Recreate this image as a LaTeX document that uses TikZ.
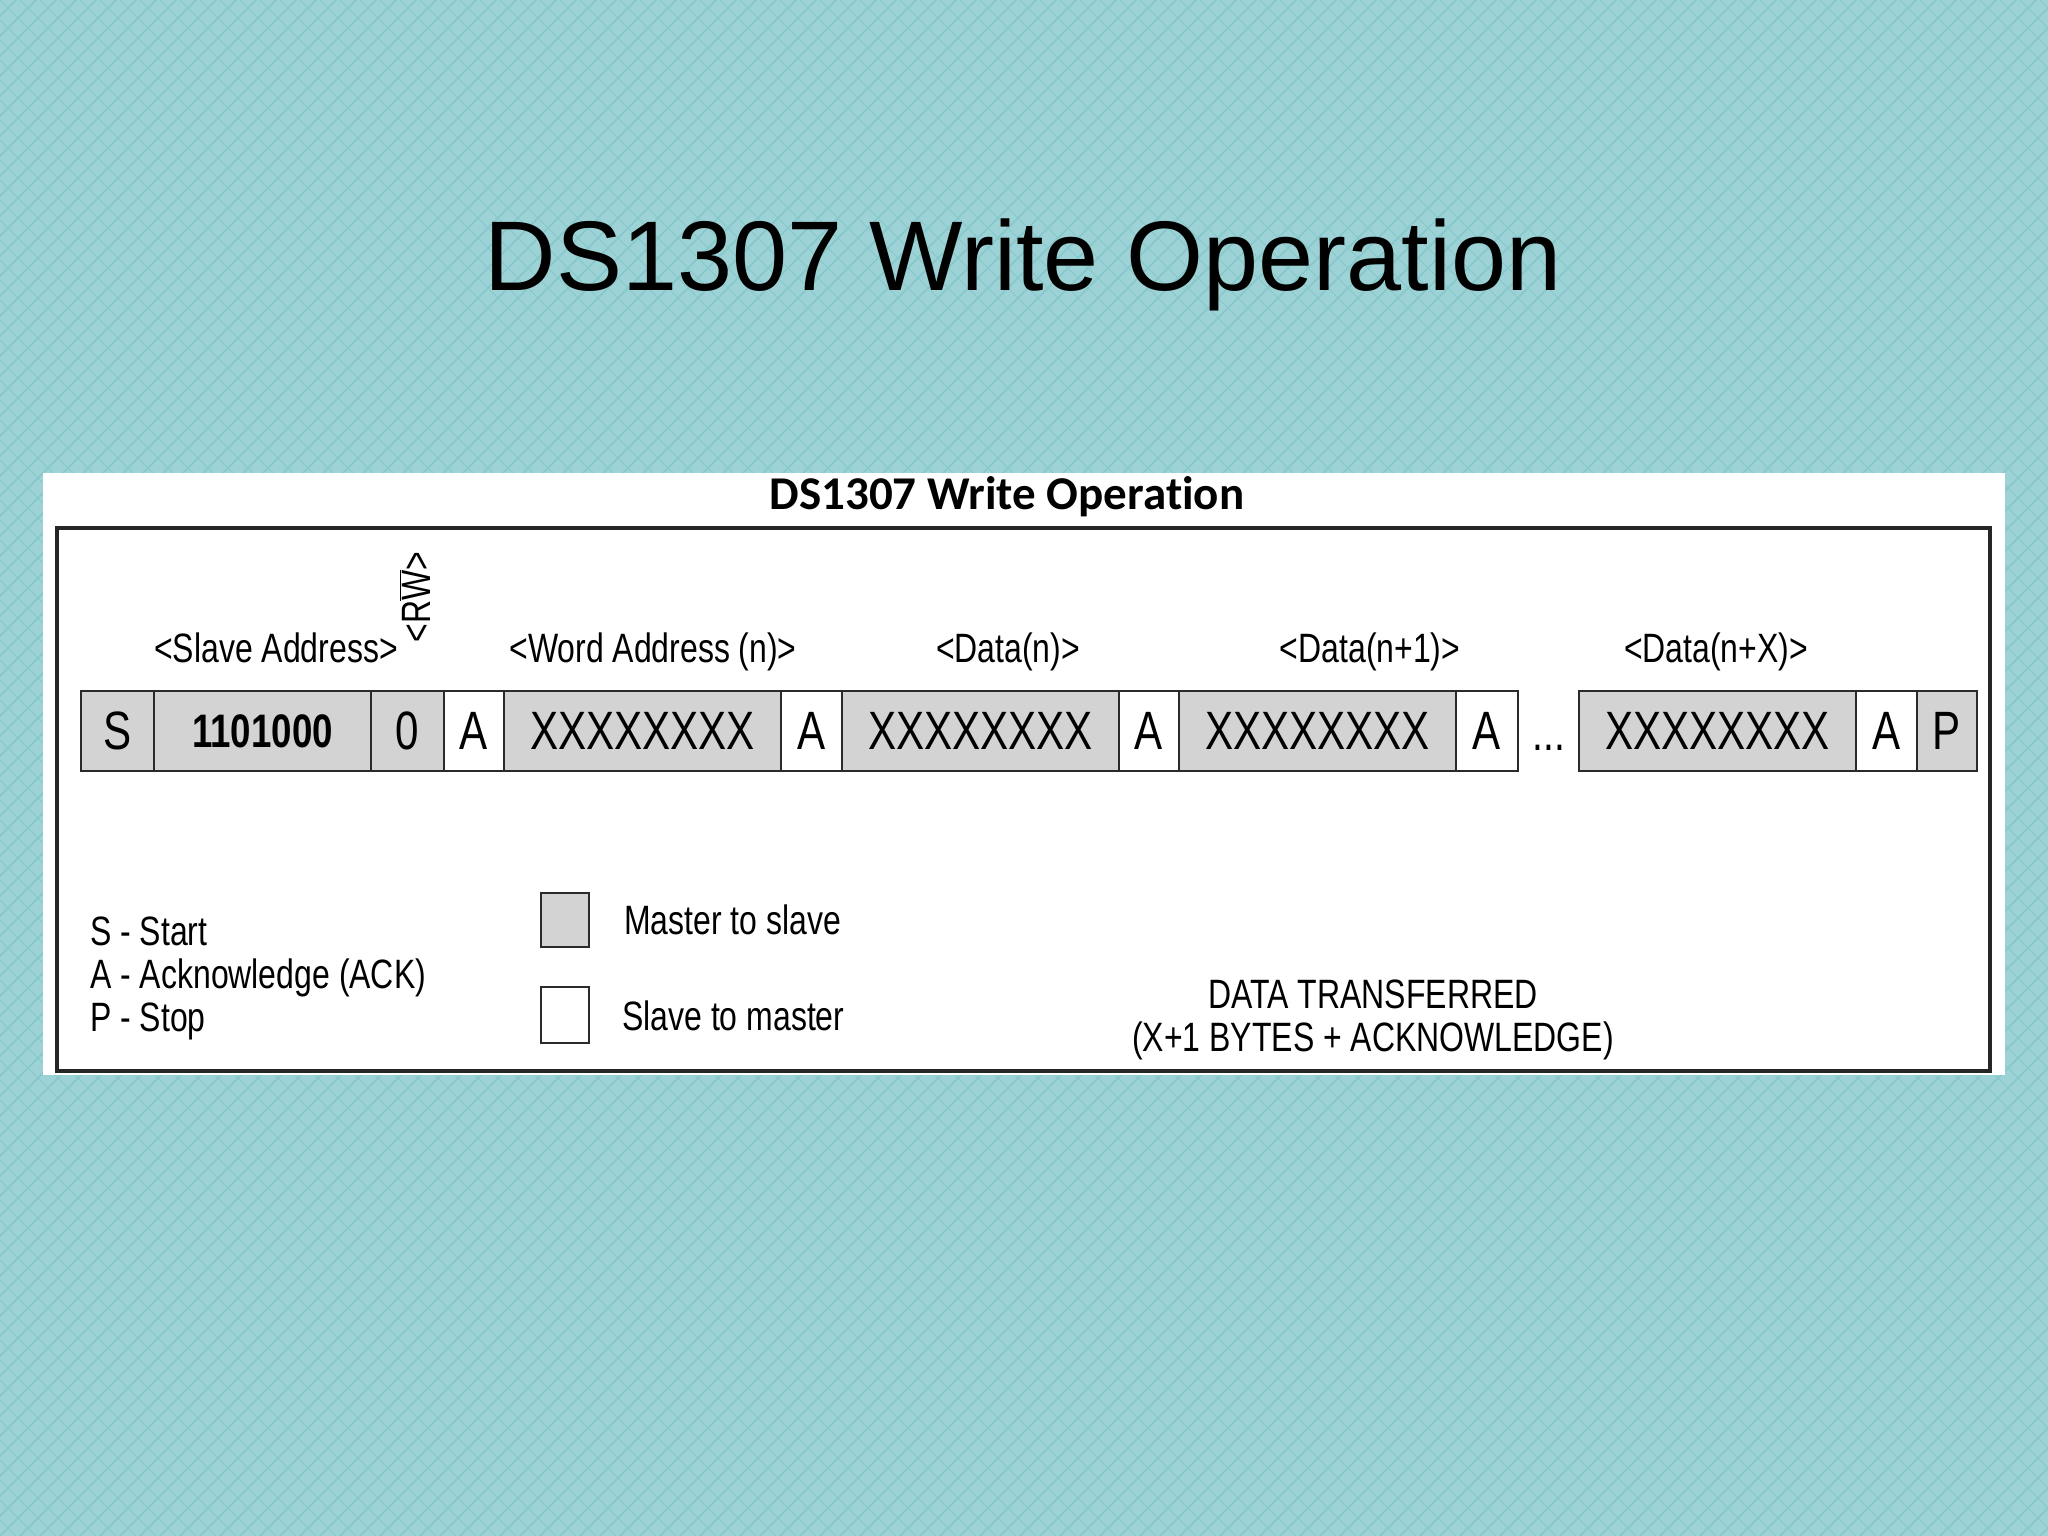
\documentclass[tikz,border=0pt]{standalone}
\usepackage{fontspec}
\setmainfont{Liberation Sans}
\newfontfamily\narrow[FakeStretch=0.78]{Liberation Sans}
\newfontfamily\calib[Ligatures=NoCommon]{Carlito}
\definecolor{bgteal}{HTML}{9DD3D6}
\definecolor{bgline}{HTML}{86C7CA}
\definecolor{cellgray}{HTML}{D3D3D3}
\definecolor{cellline}{HTML}{2A2A2A}
\tikzset{
  cellbox/.style={draw=cellline, line width=2pt, minimum height=80pt, inner sep=0pt, font=\narrow\fontsize{54}{60}\selectfont},
  cellg/.style={cellbox, fill=cellgray},
  cellw/.style={cellbox, fill=white},
  lbl/.style={inner sep=0pt, anchor=base, font=\narrow\fontsize{41}{48}\selectfont},
  legtxt/.style={inner sep=0pt, anchor=base west, font=\narrow\fontsize{41}{48}\selectfont},
  legbox/.style={draw=cellline, line width=2pt, minimum width=48pt, minimum height=54pt, inner sep=0pt}
}
\begin{document}
\begin{tikzpicture}[x=1pt,y=-1pt]
\useasboundingbox (0,0) rectangle (2048,1536);
\fill[bgteal] (0,0) rectangle (2048,1536);
\begin{scope}
\clip (0,0) rectangle (2048,1536);
\foreach \i in {-1600,-1580,...,2060} {
  \draw[bgline, line width=1.6pt] (\i,1536) -- ++(1536,-1536);
  \draw[bgline, line width=0.8pt] (\i,0) -- ++(1536,1536);
}
\end{scope}
% slide title
\node[inner sep=0pt, anchor=base, font=\fontsize{99}{110}\selectfont] (title) at (1023,290) {DS1307 Write Operation};
% white panel
\fill[white] (43,473) rectangle (2005,1075);
\node[inner sep=0pt, anchor=base, font=\calib\bfseries\fontsize{47}{54}\selectfont] (ptitle) at (1007,509) {DS1307 Write Operation};
\draw[line width=4pt, black!85] (57,528) rectangle (1990,1071);
% row of cells
\node[cellg, minimum width=73pt] (s) at (117.5,731) {S};
\node[cellg, minimum width=217pt, font=\narrow\bfseries\fontsize{47}{54}\selectfont] (addr) at (262.5,731) {1101000};
\node[cellg, minimum width=73pt] (rw) at (407.5,731) {0};
\node[cellw, minimum width=60pt] (a1) at (474,731) {A};
\node[cellg, minimum width=277pt] (d0) at (642.5,731) {XXXXXXXX};
\node[cellw, minimum width=61pt] (a2) at (811.5,731) {A};
\node[cellg, minimum width=277pt] (d1) at (980.5,731) {XXXXXXXX};
\node[cellw, minimum width=60pt] (a3) at (1149,731) {A};
\node[cellg, minimum width=277pt] (d2) at (1317.5,731) {XXXXXXXX};
\node[cellw, minimum width=62pt] (a4) at (1487,731) {A};
\node[inner sep=0pt, font=\narrow\fontsize{50}{56}\selectfont, anchor=base] (dots) at (1549,750) {...};
\node[cellg, minimum width=277pt] (dx) at (1717.5,731) {XXXXXXXX};
\node[cellw, minimum width=61pt] (a5) at (1886.5,731) {A};
\node[cellg, minimum width=60pt] (p) at (1947,731) {P};
% labels above
\node[lbl] (lslave) at (276,662) {<Slave Address>};
\node[lbl, anchor=center, rotate=90] (lrw) at (415,597) {<R$\overline{\hbox{W}}$>};
\node[lbl] (lword) at (653,662) {<Word Address (n)>};
\node[lbl] (ldn) at (1008,662) {<Data(n)>};
\node[lbl] (ldn1) at (1370,662) {<Data(n+1)>};
\node[lbl] (ldnx) at (1716,662) {<Data(n+X)>};
% legend
\node[legtxt] (ls) at (90,945) {S - Start};
\node[legtxt] (la) at (90,988) {A - Acknowledge (ACK)};
\node[legtxt] (lp) at (90,1031) {P - Stop};
\node[legbox, fill=cellgray] (bg) at (565,920) {};
\node[legbox, fill=white, minimum height=56pt] (bw) at (565,1015) {};
\node[legtxt] (lm2s) at (624,934) {Master to slave};
\node[legtxt] (ls2m) at (622,1030) {Slave to master};
\node[lbl] (ldt1) at (1373,1008) {DATA TRANSFERRED};
\node[lbl] (ldt2) at (1373,1051) {(X+1 BYTES + ACKNOWLEDGE)};
\end{tikzpicture}
\end{document}
